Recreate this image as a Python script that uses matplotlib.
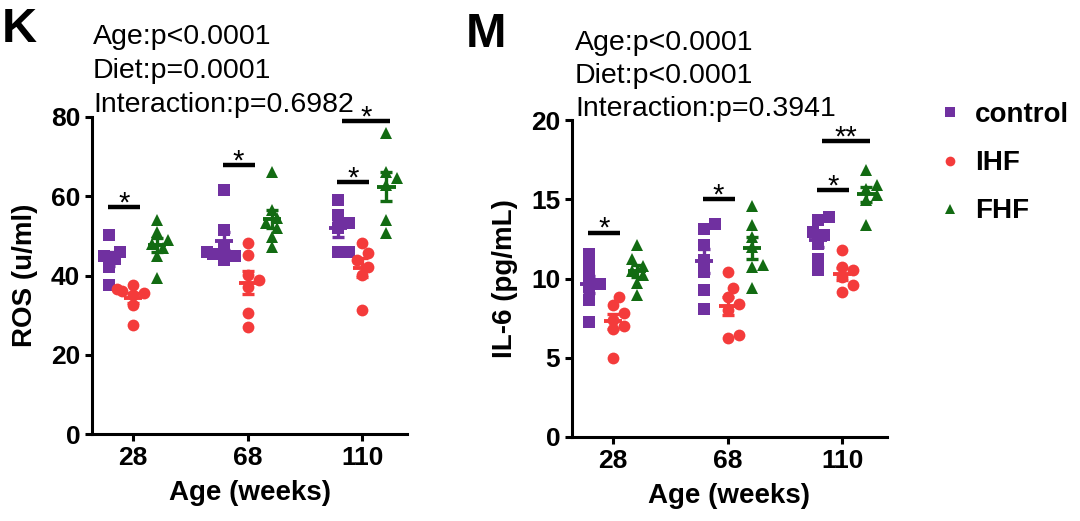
import numpy as np
import matplotlib
matplotlib.use("Agg")
import matplotlib.pyplot as plt
from matplotlib.lines import Line2D

plt.rcParams["font.family"] = ["Liberation Sans", "DejaVu Sans"]

# ---------------------------------------------------------------------------
# Data
# ---------------------------------------------------------------------------
AGES = ["28", "68", "110"]
GROUPS = ["control", "IHF", "FHF"]
COLORS = {"control": "#7030A0", "IHF": "#F43B3B", "FHF": "#126B12"}
MARKERS = {"control": "s", "IHF": "o", "FHF": "^"}

# ROS (u/ml), one list per age
ros_control = [[50.2, 46.0, 45.0, 44.2, 42.2, 37.6],
               [61.6, 51.5, 47.0, 46.0, 45.5, 45.0, 44.0],
               [59.1, 55.3, 53.2, 51.9, 46.0, 46.0]]
ros_ihf = [[37.5, 36.5, 36.0, 35.5, 35.0, 32.6, 27.5],
           [48.2, 45.2, 40.2, 38.9, 37.2, 30.5, 27.1],
           [48.2, 45.6, 43.9, 42.2, 40.2, 31.3]]
ros_fhf = [[54.0, 51.1, 49.0, 48.0, 47.0, 44.8, 39.3],
           [66.2, 56.6, 54.5, 53.2, 51.9, 49.8, 47.3],
           [75.9, 66.2, 64.6, 62.9, 54.0, 50.7]]

# IL-6 (pg/mL)
il6_control = [[11.57, 10.84, 10.10, 9.68, 9.47, 8.63, 7.27],
               [13.47, 13.15, 12.10, 11.15, 10.40, 9.26, 8.05],
               [13.88, 13.67, 12.94, 12.73, 12.20, 11.26, 10.52]]
il6_ihf = [[8.84, 8.30, 7.80, 7.40, 7.00, 6.80, 4.96],
           [10.40, 9.37, 8.84, 8.42, 8.00, 6.43, 6.22],
           [11.78, 10.73, 10.52, 10.10, 9.58, 9.16]]
il6_fhf = [[12.10, 11.20, 10.80, 10.50, 10.20, 9.70, 8.95],
           [14.60, 13.36, 12.62, 12.00, 10.84, 10.73, 9.37],
           [16.82, 15.88, 15.67, 15.25, 14.93, 13.36]]

# significance: (age index, pair, level, label)
ros_sig = [(0, "IHF", 57.2, "*"), (1, "IHF", 67.8, "*"),
           (2, "IHF", 63.5, "*"), (2, "FHF", 78.9, "*")]
il6_sig = [(0, "IHF", 12.9, "*"), (1, "IHF", 15.0, "*"),
           (2, "IHF", 15.56, "*"), (2, "FHF", 18.67, "**")]

ros_stats = ["Age:p<0.0001", "Diet:p=0.0001", "Interaction:p=0.6982"]
il6_stats = ["Age:p<0.0001", "Diet:p<0.0001", "Interaction:p=0.3941"]

OFFSET = {"control": -0.21, "IHF": 0.0, "FHF": 0.21}
SIG_SPAN = {"IHF": (-0.22, 0.06), "FHF": (-0.18, 0.24)}
W, H = 1080, 521


def swarm(vals, xc, ypu, xpu=114.5, d=11.0):
    """Simple deterministic beeswarm in pixel space."""
    vals = np.asarray(vals, dtype=float)
    xs = np.zeros(len(vals))
    placed = []
    for i in np.argsort(vals):
        y = vals[i] * ypu
        for k in (0, 1, -1, 2, -2, 3, -3):
            x = k * d * 0.5
            if all((x - px) ** 2 + (y - py) ** 2 >= (0.8 * d) ** 2 for px, py in placed):
                break
        placed.append((x, y))
        xs[i] = xc + x / xpu
    return xs


def panel(ax, data, sig, ymax, yticks, ylabel):
    ax.set_xlim(-0.36, 2.39)
    ax.set_ylim(0, ymax)
    ax_h_px = ax.get_position().height * H
    ypu = ax_h_px / ymax

    for g, series in zip(GROUPS, data):
        c = COLORS[g]
        for i, vals in enumerate(series):
            xc = i + OFFSET[g]
            xs = swarm(vals, xc, ypu)
            ax.plot(xs, vals, MARKERS[g], color=c, markersize=8.5,
                    markeredgewidth=0, zorder=3, clip_on=False)
            m = np.mean(vals)
            sem = np.std(vals, ddof=1) / np.sqrt(len(vals))
            ax.hlines(m, xc - 0.08, xc + 0.08, color=c, linewidth=2.8, zorder=4)
            ax.errorbar(xc, m, yerr=sem, color=c, capsize=4, elinewidth=2.4,
                        capthick=2.4, zorder=4, fmt="none")

    for i, pair, level, lab in sig:
        x0, x1 = SIG_SPAN[pair]
        ax.hlines(level, i + x0, i + x1, color="black", linewidth=3.2,
                  zorder=5, clip_on=False)
        ax.annotate(lab, xy=(i + (x0 + x1) / 2, level), xytext=(0, -3),
                    textcoords="offset points", ha="center", va="baseline",
                    fontsize=21, annotation_clip=False)

    for s in ("top", "right"):
        ax.spines[s].set_visible(False)
    for s in ("left", "bottom"):
        ax.spines[s].set_linewidth(2.2)
    ax.set_xticks(range(len(AGES)))
    ax.set_xticklabels(AGES)
    ax.set_yticks(yticks)
    ax.tick_params(width=2.2, length=5, labelsize=19)
    for t in ax.get_xticklabels() + ax.get_yticklabels():
        t.set_fontweight("bold")
    ax.set_xlabel("Age (weeks)", fontsize=20, fontweight="bold", labelpad=7)
    ax.set_ylabel(ylabel, fontsize=20, fontweight="bold", labelpad=9)


fig = plt.figure(figsize=(W / 100, H / 100), dpi=100)
ax_k = fig.add_axes([92 / W, 1 - 434 / H, 315 / W, 317 / H])
ax_m = fig.add_axes([572 / W, 1 - 437 / H, 315 / W, 317 / H])

panel(ax_k, [ros_control, ros_ihf, ros_fhf], ros_sig, 80, [0, 20, 40, 60, 80],
      "ROS (u/ml)")
panel(ax_m, [il6_control, il6_ihf, il6_fhf], il6_sig, 20, [0, 5, 10, 15, 20],
      "IL-6 (pg/mL)")

# panel letters and two-way ANOVA summaries
fig.text(2 / W, 1 - 42 / H, "K", fontsize=35, fontweight="bold", va="baseline")
fig.text(466 / W, 1 - 47 / H, "M", fontsize=35, fontweight="bold", va="baseline")
for j, line in enumerate(ros_stats):
    fig.text(93 / W, 1 - (44 + 34 * j) / H, line, fontsize=20.5, va="baseline")
for j, line in enumerate(il6_stats):
    fig.text(575 / W, 1 - (50 + 33 * j) / H, line, fontsize=20.5, va="baseline")

handles = [Line2D([], [], linestyle="none", marker=MARKERS[g], color=COLORS[g],
                  markersize=7, markeredgewidth=0) for g in GROUPS]
leg = fig.legend(handles, GROUPS, loc="upper left", bbox_to_anchor=(936 / W, 1 - 102 / H),
                 frameon=False, handlelength=1.0, handletextpad=0.4,
                 borderpad=0, borderaxespad=0,
                 labelspacing=0.8, prop={"size": 20, "weight": "bold"})

fig.savefig("out.png", dpi=100)
